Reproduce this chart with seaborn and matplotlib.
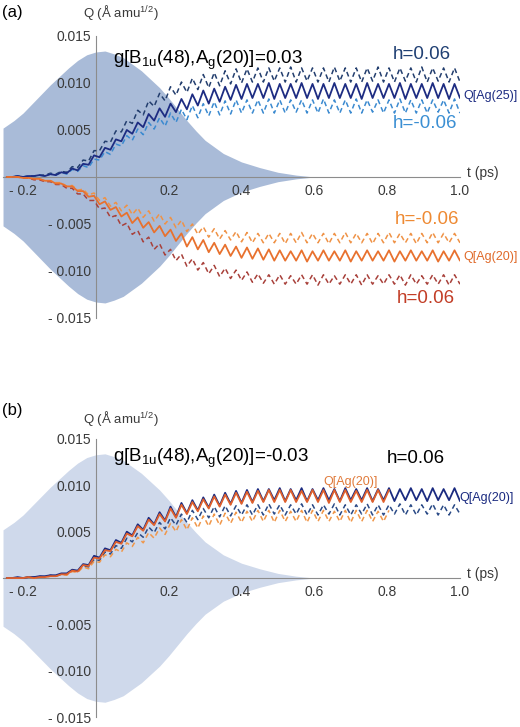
import numpy as np
import matplotlib
matplotlib.use("Agg")
import matplotlib.pyplot as plt
import seaborn as sns
from matplotlib.ticker import MultipleLocator

# turning points of the oscillations (t in ps)
t_turn = [
    -0.245, -0.230, -0.215, -0.200, -0.185, -0.170, -0.155, -0.140, -0.125, -0.110,
    -0.095, -0.080, -0.065, -0.050, -0.035, -0.020, -0.005, 0.010, 0.025, 0.040,
    0.055, 0.070, 0.085, 0.100, 0.115, 0.130, 0.145, 0.160, 0.175, 0.190,
    0.205, 0.220, 0.235, 0.250, 0.265, 0.280, 0.295, 0.310, 0.325, 0.340,
    0.355, 0.370, 0.385, 0.400, 0.415, 0.430, 0.445, 0.460, 0.475, 0.490,
    0.505, 0.520, 0.535, 0.550, 0.565, 0.580, 0.595, 0.610, 0.625, 0.640,
    0.655, 0.670, 0.685, 0.700, 0.715, 0.730, 0.745, 0.760, 0.775, 0.790,
    0.805, 0.820, 0.835, 0.850, 0.865, 0.880, 0.895, 0.910, 0.925, 0.940,
    0.955, 0.970, 0.985, 1.000,
]

# pump envelope (shaded), Q in 1e-3 A amu^1/2
env_t = [-0.255, -0.225, -0.2, -0.175, -0.15, -0.125, -0.1, -0.075, -0.05, -0.025,
         0.0, 0.025, 0.05, 0.075, 0.1, 0.125, 0.15, 0.175, 0.2, 0.225,
         0.25, 0.275, 0.3, 0.35, 0.4, 0.45, 0.5, 0.55, 0.6]
env_q = [5.2, 6.0, 6.8, 7.8, 8.8, 9.8, 10.7, 11.6, 12.4, 13.0,
         13.3, 13.4, 13.1, 12.7, 12.0, 11.3, 10.4, 9.5, 8.4, 7.2,
         6.0, 4.9, 3.9, 2.5, 1.6, 1.0, 0.5, 0.2, 0.0]

# panel (a), g = 0.03
q_a_ag25 = [
    0.0, 0.0, 0.1, 0.0, 0.1, 0.1, 0.2, 0.1, 0.3, 0.2,
    0.5, 0.4, 0.9, 0.7, 1.4, 1.3, 2.3, 2.1, 3.1, 2.9,
    4.0, 3.8, 5.0, 4.6, 5.8, 5.3, 6.7, 6.0, 7.3, 6.4,
    7.8, 6.9, 8.3, 7.2, 8.8, 7.6, 9.2, 7.8, 9.4, 8.0,
    9.6, 8.2, 9.8, 8.3, 9.9, 8.4, 9.9, 8.4, 10.0, 8.3,
    9.9, 8.4, 9.9, 8.4, 10.0, 8.4, 9.9, 8.3, 9.9, 8.4,
    10.0, 8.4, 9.9, 8.4, 9.9, 8.3, 10.0, 8.4, 9.9, 8.4,
    9.9, 8.4, 10.0, 8.3, 9.9, 8.4, 9.9, 8.4, 10.0, 8.4,
    9.9, 8.3, 9.9, 8.4,
]
q_a_ag25_hpos = [
    0.0, 0.0, 0.1, 0.0, 0.1, 0.1, 0.2, 0.2, 0.4, 0.3,
    0.6, 0.5, 1.1, 1.0, 1.8, 1.7, 2.8, 2.8, 3.8, 3.7,
    4.9, 4.8, 6.0, 5.7, 7.1, 6.6, 8.1, 7.5, 8.9, 8.1,
    9.6, 8.7, 10.1, 9.0, 10.5, 9.3, 10.9, 9.5, 11.1, 9.7,
    11.3, 9.9, 11.5, 10.0, 11.5, 10.1, 11.6, 10.1, 11.6, 10.2,
    11.6, 10.1, 11.7, 10.1, 11.6, 10.2, 11.6, 10.1, 11.6, 10.1,
    11.7, 10.2, 11.6, 10.1, 11.6, 10.1, 11.6, 10.2, 11.7, 10.1,
    11.6, 10.1, 11.6, 10.2, 11.6, 10.1, 11.7, 10.1, 11.6, 10.2,
    11.6, 10.1, 11.6, 10.1,
]
q_a_ag25_hneg = [
    0.0, 0.0, 0.1, 0.0, 0.1, 0.1, 0.2, 0.1, 0.3, 0.2,
    0.5, 0.3, 0.8, 0.6, 1.2, 1.0, 1.9, 1.8, 2.7, 2.4,
    3.5, 3.3, 4.4, 3.9, 5.1, 4.5, 5.8, 5.1, 6.3, 5.4,
    6.8, 5.8, 7.2, 6.1, 7.6, 6.3, 7.8, 6.5, 8.0, 6.6,
    8.1, 6.7, 8.2, 6.8, 8.2, 6.8, 8.2, 6.8, 8.3, 6.8,
    8.2, 6.8, 8.2, 6.9, 8.2, 6.8, 8.2, 6.8, 8.3, 6.8,
    8.2, 6.8, 8.2, 6.8, 8.3, 6.8, 8.2, 6.9, 8.2, 6.8,
    8.2, 6.8, 8.3, 6.8, 8.2, 6.8, 8.2, 6.8, 8.2, 6.9,
    8.2, 6.8, 8.3, 6.8,
]
q_a_ag20 = [
    0.0, 0.0, 0.0, -0.1, -0.1, -0.2, -0.2, -0.4, -0.4, -0.7,
    -0.7, -1.0, -1.0, -1.5, -1.5, -2.1, -2.0, -2.9, -2.6, -3.5,
    -3.2, -4.2, -3.8, -4.9, -4.3, -5.4, -4.8, -5.9, -5.2, -6.3,
    -5.6, -6.8, -6.0, -7.4, -6.4, -7.7, -6.7, -8.0, -7.0, -8.2,
    -7.2, -8.4, -7.4, -8.6, -7.5, -8.7, -7.6, -8.8, -7.7, -8.9,
    -7.8, -8.9, -7.9, -8.9, -7.8, -9.0, -7.9, -8.9, -7.8, -8.9,
    -7.9, -8.9, -7.8, -9.0, -7.9, -8.9, -7.8, -8.9, -7.9, -8.9,
    -7.8, -9.0, -7.9, -8.9, -7.8, -8.9, -7.9, -8.9, -7.8, -9.0,
    -7.9, -8.9, -7.8, -8.9,
]
q_a_ag20_hneg = [
    0.0, 0.0, 0.0, -0.1, -0.1, -0.2, -0.2, -0.4, -0.4, -0.6,
    -0.6, -1.0, -0.9, -1.4, -1.3, -1.9, -1.7, -2.5, -2.2, -3.1,
    -2.7, -3.6, -3.0, -4.0, -3.3, -4.3, -3.6, -4.7, -3.9, -5.0,
    -4.3, -5.4, -4.6, -5.8, -5.0, -6.1, -5.3, -6.4, -5.5, -6.6,
    -5.7, -6.7, -5.8, -6.9, -5.9, -7.0, -6.0, -7.0, -6.0, -7.0,
    -6.0, -7.1, -6.0, -7.0, -5.9, -7.0, -6.0, -7.0, -6.0, -7.1,
    -6.0, -7.0, -5.9, -7.0, -6.0, -7.0, -6.0, -7.1, -6.0, -7.0,
    -5.9, -7.0, -6.0, -7.0, -6.0, -7.1, -6.0, -7.0, -5.9, -7.0,
    -6.0, -7.0, -6.0, -7.0,
]
q_a_ag20_hpos = [
    0.0, 0.0, 0.0, -0.1, -0.1, -0.3, -0.3, -0.5, -0.5, -0.8,
    -0.8, -1.2, -1.2, -1.8, -1.8, -2.5, -2.5, -3.4, -3.3, -4.3,
    -4.1, -5.2, -4.9, -6.1, -5.7, -6.9, -6.4, -7.7, -7.1, -8.3,
    -7.7, -8.9, -8.2, -9.5, -8.7, -9.9, -9.1, -10.3, -9.4, -10.6,
    -9.7, -10.8, -9.9, -11.0, -10.1, -11.2, -10.3, -11.3, -10.4, -11.4,
    -10.4, -11.4, -10.5, -11.4, -10.4, -11.4, -10.4, -11.5, -10.4, -11.4,
    -10.5, -11.4, -10.4, -11.4, -10.4, -11.5, -10.4, -11.4, -10.5, -11.4,
    -10.4, -11.4, -10.4, -11.5, -10.4, -11.4, -10.5, -11.4, -10.4, -11.4,
    -10.4, -11.5, -10.4, -11.4,
]

# panel (b), g = -0.03, h = 0.06 (orange curves stop at 0.8 ps)
q_b_blue = [
    0.0, 0.0, 0.1, 0.0, 0.1, 0.1, 0.2, 0.2, 0.3, 0.3,
    0.5, 0.5, 0.9, 0.8, 1.5, 1.4, 2.4, 2.2, 3.2, 3.0,
    4.1, 3.8, 5.0, 4.6, 5.8, 5.2, 6.5, 5.8, 7.1, 6.2,
    7.7, 6.6, 8.1, 7.0, 8.4, 7.3, 8.7, 7.6, 9.0, 7.8,
    9.2, 8.0, 9.4, 8.1, 9.5, 8.2, 9.6, 8.3, 9.6, 8.4,
    9.7, 8.3, 9.6, 8.4, 9.7, 8.3, 9.6, 8.4, 9.7, 8.4,
    9.6, 8.3, 9.7, 8.4, 9.6, 8.4, 9.7, 8.3, 9.6, 8.4,
    9.7, 8.3, 9.6, 8.4, 9.7, 8.4, 9.6, 8.3, 9.7, 8.4,
    9.6, 8.4, 9.7, 8.3,
]
q_b_blue_h = [
    0.0, 0.0, 0.0, 0.0, 0.1, 0.1, 0.2, 0.1, 0.3, 0.2,
    0.4, 0.4, 0.8, 0.7, 1.3, 1.2, 2.0, 1.9, 2.8, 2.6,
    3.5, 3.2, 4.3, 3.9, 4.9, 4.4, 5.5, 4.9, 6.0, 5.3,
    6.5, 5.7, 6.9, 6.0, 7.3, 6.3, 7.5, 6.5, 7.7, 6.6,
    7.8, 6.7, 7.8, 6.8, 7.9, 6.8, 7.9, 6.8, 8.0, 6.9,
    7.9, 6.8, 7.9, 6.9, 8.0, 6.8, 7.9, 6.8, 7.9, 6.9,
    8.0, 6.8, 7.9, 6.8, 7.9, 6.9, 8.0, 6.8, 7.9, 6.8,
    7.9, 6.9, 8.0, 6.8, 7.9, 6.8, 7.9, 6.9, 8.0, 6.8,
    7.9, 6.8, 7.9, 6.9,
]
q_b_orange = [
    0.0, 0.0, 0.0, 0.0, 0.1, 0.0, 0.1, 0.1, 0.2, 0.2,
    0.4, 0.4, 0.8, 0.7, 1.4, 1.3, 2.2, 2.1, 3.0, 2.9,
    3.9, 3.7, 4.8, 4.5, 5.6, 5.1, 6.3, 5.7, 6.9, 6.1,
    7.5, 6.5, 7.9, 6.9, 8.2, 7.2, 8.5, 7.5, 8.8, 7.7,
    9.0, 7.9, 9.2, 8.0, 9.3, 8.1, 9.4, 8.2, 9.5, 8.2,
    9.5, 8.2, 9.5, 8.2, 9.4, 8.2, 9.5, 8.2, 9.5, 8.1,
    9.5, 8.2, 9.5, 8.2, 9.4, 8.2, 9.5, 8.2, 9.5, 8.2,
    9.5,
]
q_b_orange_h = [
    0.0, 0.0, 0.0, 0.0, 0.1, 0.0, 0.1, 0.1, 0.2, 0.2,
    0.4, 0.3, 0.7, 0.6, 1.2, 1.0, 1.8, 1.7, 2.5, 2.3,
    3.1, 2.8, 3.8, 3.4, 4.4, 3.8, 4.9, 4.3, 5.4, 4.7,
    5.9, 5.0, 6.3, 5.2, 6.5, 5.4, 6.7, 5.6, 6.9, 5.7,
    7.0, 5.9, 7.1, 6.0, 7.2, 6.1, 7.3, 6.1, 7.3, 6.0,
    7.3, 6.1, 7.2, 6.1, 7.3, 6.0, 7.3, 6.1, 7.3, 6.1,
    7.2, 6.1, 7.3, 6.0, 7.3, 6.1, 7.3, 6.1, 7.2, 6.1,
    7.3,
]

x_major = [-0.2, 0.2, 0.4, 0.6, 0.8, 1.0]
x_labels = ["- 0.2", "0.2", "0.4", "0.6", "0.8", "1.0"]
y_major = [-0.015, -0.010, -0.005, 0.005, 0.010, 0.015]
y_labels = ["- 0.015", "- 0.010", "- 0.005", "0.005", "0.010", "0.015"]

sns.set_style("white")
plt.rcParams["font.family"] = ["Liberation Sans", "DejaVu Sans"]
plt.rcParams["mathtext.fontset"] = "custom"
plt.rcParams["mathtext.rm"] = "Liberation Sans"

AXC = "#8c8c8c"
TXC = "#3a3a3a"

fig = plt.figure(figsize=(5.2, 7.27), dpi=100)
ax_a = fig.add_axes([0.0058, 0.5600, 0.8788, 0.3931])
ax_b = fig.add_axes([0.0058, 0.0111, 0.8788, 0.3876])


def style_axes(ax, fill_color):
    ax.fill_between(np.array(env_t), -np.array(env_q) * 1e-3, np.array(env_q) * 1e-3,
                    color=fill_color, lw=0, zorder=0)
    ax.set_xlim(-0.255, 1.0)
    ax.set_ylim(-0.0152, 0.0152)
    for s in ["top", "right"]:
        ax.spines[s].set_visible(False)
    ax.spines["left"].set_position(("data", 0))
    ax.spines["bottom"].set_position(("data", 0))
    ax.spines["left"].set_bounds(-0.015, 0.015)
    ax.spines["bottom"].set_bounds(-0.255, 1.0)
    for s in ["left", "bottom"]:
        ax.spines[s].set_color(AXC)
        ax.spines[s].set_linewidth(0.8)
        ax.spines[s].set_zorder(1)
    ax.set_xticks(x_major, labels=x_labels)
    ax.set_yticks(y_major, labels=y_labels)
    ax.xaxis.set_minor_locator(MultipleLocator(0.05))
    ax.yaxis.set_minor_locator(MultipleLocator(0.001))
    ax.tick_params(which="both", direction="in", color=AXC, width=0.7,
                   labelsize=10, labelcolor=TXC)
    ax.tick_params(which="major", length=4.5)
    ax.tick_params(which="minor", length=2.5)
    ax.tick_params(axis="x", pad=5)
    ax.tick_params(axis="y", pad=3.5)
    ax.set_xlabel("")
    ax.set_ylabel("")
    ax.text(1.019, 0.0004, "t (ps)", fontsize=10, color=TXC, va="center", ha="left")


def curve(ax, q, color, dashed=False, lw=1.3):
    n = len(q)
    sns.lineplot(x=t_turn[:n], y=np.array(q) * 1e-3, ax=ax, color=color, lw=lw,
                 linestyle=(0, (3.2, 2.2)) if dashed else "-", zorder=3,
                 solid_joinstyle="round", dash_joinstyle="round")


# ---- panel (a)
style_axes(ax_a, "#a9bbd8")
curve(ax_a, q_a_ag25_hpos, "#233e6e", dashed=True, lw=1.1)
curve(ax_a, q_a_ag25_hneg, "#3b8ad0", dashed=True, lw=1.1)
curve(ax_a, q_a_ag25, "#1d2c82")
curve(ax_a, q_a_ag20_hneg, "#ef9246", dashed=True, lw=1.1)
curve(ax_a, q_a_ag20_hpos, "#a8403a", dashed=True, lw=1.1)
curve(ax_a, q_a_ag20, "#e8712e")

ax_a.text(0.047, 0.0121, r"g[B$_\mathregular{1u}$(48),A$_\mathregular{g}$(20)]=0.03",
          fontsize=13.5, color="black", va="baseline")
ax_a.text(0.816, 0.0125, "h=0.06", fontsize=13.5, color="#1f3f73", va="baseline")
ax_a.text(0.816, 0.0052, "h=-0.06", fontsize=13.5, color="#3b8fd3", va="baseline")
ax_a.text(1.008, 0.0086, "Q[Ag(25)]", fontsize=9, color="#1d2c82", va="center")
ax_a.text(0.821, -0.0050, "h=-0.06", fontsize=13.5, color="#ee8a33", va="baseline")
ax_a.text(1.008, -0.0085, "Q[Ag(20)]", fontsize=9, color="#e06a2a", va="center")
ax_a.text(0.827, -0.0134, "h=0.06", fontsize=13.5, color="#c23d26", va="baseline")

# ---- panel (b)
style_axes(ax_b, "#cfd9eb")
curve(ax_b, q_b_blue_h, "#2a4a86", dashed=True, lw=1.1)
curve(ax_b, q_b_orange_h, "#f0974a", dashed=True, lw=1.1)
curve(ax_b, q_b_blue, "#1a2a80")
curve(ax_b, q_b_orange, "#e0602c")

ax_b.text(0.047, 0.0125, r"g[B$_\mathregular{1u}$(48),A$_\mathregular{g}$(20)]=-0.03",
          fontsize=13.5, color="black", va="baseline")
ax_b.text(0.80, 0.0124, "h=0.06", fontsize=13.5, color="black", va="baseline")
ax_b.text(0.624, 0.0104, "Q[Ag(20)]", fontsize=9, color="#e07a3a", va="center")
ax_b.text(0.997, 0.0086, "Q[Ag(20)]", fontsize=9, color="#1a2a80", va="center")

# panel letters and axis titles
fig.text(2 / 520, 1 - 12.5 / 727, "(a)", fontsize=12, color="black", va="center")
fig.text(2 / 520, 1 - 410 / 727, "(b)", fontsize=12, color="black", va="center")
fig.text(83 / 520, 1 - 13 / 727, r"Q (Å amu$^\mathregular{1/2}$)", fontsize=9.5,
         color=TXC, va="center")
fig.text(83 / 520, 1 - 418 / 727, r"Q (Å amu$^\mathregular{1/2}$)", fontsize=9.5,
         color=TXC, va="center")

fig.savefig("out.png", dpi=100)
